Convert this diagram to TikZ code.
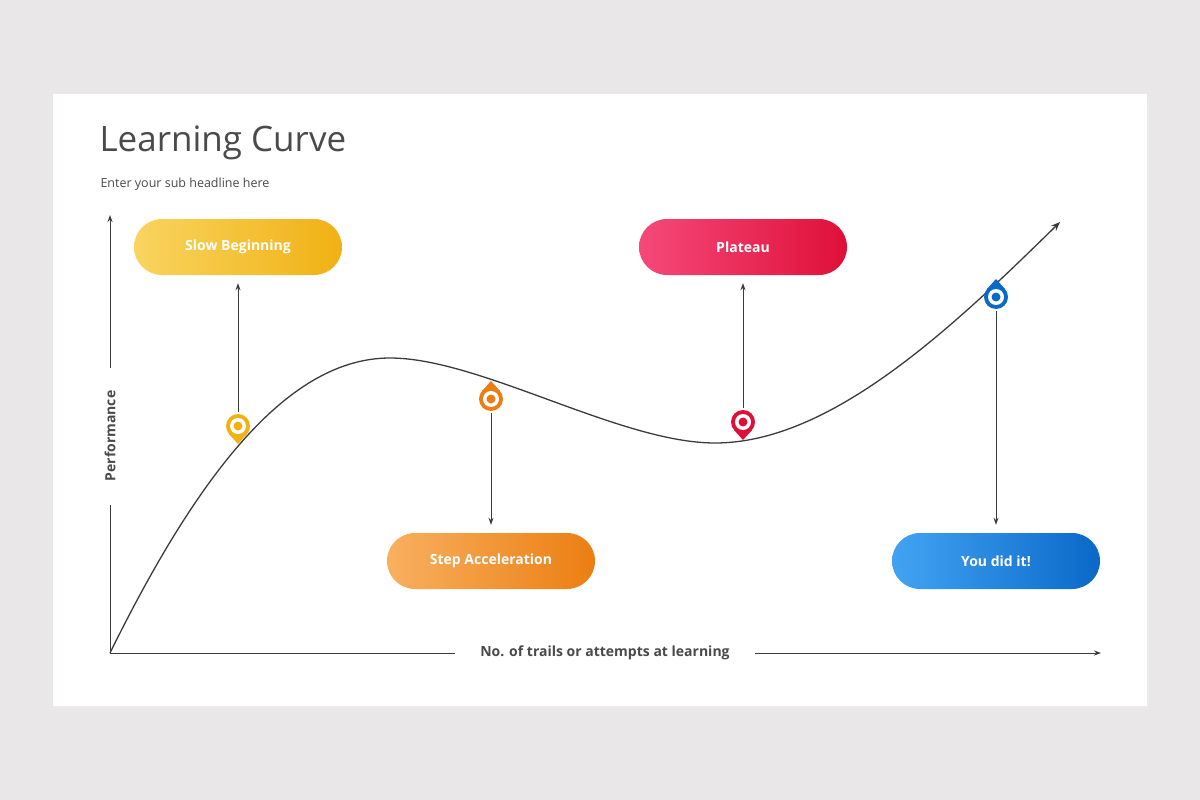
\documentclass[tikz,border=0pt]{standalone}
\usepackage{fontspec}
\setmainfont{Open Sans}
\usetikzlibrary{arrows.meta}
\definecolor{bg}{HTML}{E9E7E8}
\definecolor{txt}{HTML}{4A4A4A}
\definecolor{ln}{HTML}{3C3C3C}
\definecolor{yA}{HTML}{F9D460}\definecolor{yB}{HTML}{F0B114}
\definecolor{oA}{HTML}{F8B060}\definecolor{oB}{HTML}{EB7E12}
\definecolor{rA}{HTML}{F5497A}\definecolor{rB}{HTML}{DF1038}
\definecolor{bA}{HTML}{43A3F2}\definecolor{bB}{HTML}{0A69C8}
\tikzset{
  pill/.style={rounded corners=28pt, minimum width=208pt, minimum height=56pt,
    text=white, font=\fontsize{14}{16}\selectfont\bfseries, inner sep=0pt},
  conn/.style={draw=ln, line width=0.9pt, -{Stealth[length=7pt,width=5pt]}},
  axis/.style={draw=ln, line width=1pt},
}
\newcommand{\mypin}[4]{% name, x, y, color ; #5 direction via sign in 4? 
}
\begin{document}
\begin{tikzpicture}[x=1pt,y=-1pt]
\fill[bg] (0,0) rectangle (1200,800);
\fill[black!8] (55,97) rectangle (1149,709);
\fill[white] (53,94) rectangle (1147,706);
\useasboundingbox (0,0) rectangle (1200,800);

\node[anchor=west, text=txt, font=\fontsize{35}{40}\selectfont] (title) at (96,143) {Learning Curve};
\node[anchor=west, text=txt, font=\fontsize{12.5}{15}\selectfont] (sub) at (97,184) {Enter your sub headline here};

% axes
\node[rotate=90, text=txt, font=\fontsize{14}{16}\selectfont\bfseries] (ylab) at (110,436) {Performance};
\node[text=txt, font=\fontsize{14}{16}\selectfont\bfseries] (xlab) at (605,653) {No. of trails or attempts at learning};
\coordinate (O) at (110,653);
\coordinate (Ytop) at (110,215);
\coordinate (Xend) at (1101,653);
\draw[axis] (O) -- (110,505);
\draw[axis, -{Stealth[length=7pt,width=5pt]}] (110,368) -- (Ytop);
\draw[axis] (O) -- (455,653);
\draw[axis, -{Stealth[length=7pt,width=5pt]}] (755,653) -- (Xend);

% curve
\coordinate (Cend) at (1060,222);
\draw[ln, line width=1.3pt, -{Stealth[length=9pt,width=7pt]}] (O) .. controls (200,470) and (290,358) .. (390,358)
  .. controls (480,358) and (620,443) .. (715,443)
  .. controls (830,443) and (950,330) .. (Cend);

% pills
\node[pill, left color=yA, right color=yB] (p1) at (238,247) {Slow Beginning};
\node[pill, left color=oA, right color=oB] (p2) at (491,561) {Step Acceleration};
\node[pill, left color=rA, right color=rB] (p3) at (743,247) {Plateau};
\node[pill, left color=bA, right color=bB] (p4) at (996,561) {You did it!};

% pins (down tip: +, up tip: -)
\foreach \x/\y/\c/\d/\n in {238/426/yB/1/k1, 491/399/oB/-1/k2, 743/422/rB/1/k3, 996/297/bB/-1/k4}{
  \fill[\c] (\x,\y) circle (12);
  \fill[\c] (\x-9,\y+\d*8) -- (\x,\y+\d*18) -- (\x+9,\y+\d*8) -- cycle;
  \fill[white] (\x,\y) circle (8);
  \fill[\c] (\x,\y) circle (4.5);
}
\node[inner sep=0pt, minimum size=28pt] (k1) at (238,426) {};
\node[inner sep=0pt, minimum size=28pt] (k2) at (491,399) {};
\node[inner sep=0pt, minimum size=28pt] (k3) at (743,422) {};
\node[inner sep=0pt, minimum size=28pt] (k4) at (996,297) {};

\draw[conn] (k1) -- ([yshift=-8pt]p1.south);
\draw[conn] (k2) -- ([yshift=8pt]p2.north);
\draw[conn] (k3) -- ([yshift=-8pt]p3.south);
\draw[conn] (k4) -- ([yshift=8pt]p4.north);
\end{tikzpicture}
\end{document}
